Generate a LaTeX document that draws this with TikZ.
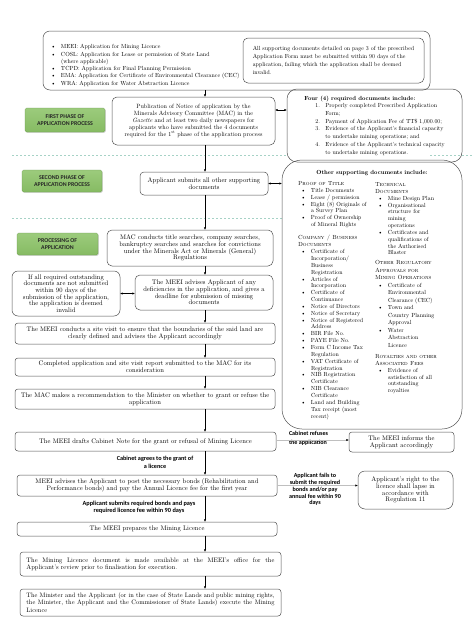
\documentclass[tikz,border=0pt]{standalone}
\usepackage{fontspec}
\setmainfont{lmroman10-regular.otf}[
  BoldFont       = lmroman10-bold.otf,
  ItalicFont     = lmroman10-italic.otf,
  BoldItalicFont = lmroman10-bolditalic.otf,
  SmallCapsFont  = lmromancaps10-regular.otf]
\newfontfamily\sansfam{Carlito}
\usepackage{tikz}
\usetikzlibrary{arrows.meta,shadows}

\definecolor{edgegray}{HTML}{505050}
\definecolor{phasetop}{HTML}{9CCB7C}
\definecolor{phasemid}{HTML}{CBE7B5}
\definecolor{phasebot}{HTML}{86BB63}
\definecolor{phaseline}{HTML}{A6D2C6}

\newcommand{\boxfont}{\fontsize{6.6}{6.7}\selectfont}
\newcommand{\listfont}{\fontsize{5.9}{6.85}\selectfont}
\newcommand{\labfont}{\sansfam\bfseries\fontsize{6.2}{8}\selectfont}
\newcommand{\phasefont}{\sansfam\bfseries\fontsize{5.9}{6.8}\selectfont}
% bullets and indents for the lists
\newcommand{\bul}{\makebox[10pt][l]{\textbullet}}
\newcommand{\ind}{\hspace*{10pt}}
\newcommand{\obul}{\hspace*{3pt}\makebox[10pt][l]{\textbullet}}
\newcommand{\oind}{\hspace*{13pt}}
\newcommand{\numit}[1]{\hspace*{11pt}\makebox[10pt][l]{#1}}
\newcommand{\numind}{\hspace*{21pt}}

\begin{document}
\begin{tikzpicture}[
    x=1pt, y=-1pt,
    every node/.style = {inner sep=0pt, outer sep=0pt},
    procbox/.style    = {draw=edgegray, line width=0.5pt, rounded corners=3pt,
                         align=center, font=\boxfont},
    phase/.style      = {draw=phasebot!80!black, line width=0.3pt, rounded corners=1.5pt,
                         top color=phasetop, middle color=phasemid, bottom color=phasebot,
                         align=center, font=\phasefont, text=black!85,
                         drop shadow={opacity=0.3, shadow xshift=0.8pt, shadow yshift=-0.8pt}},
    lab/.style        = {align=center, font=\labfont},
    arr/.style        = {-{Latex[length=2.6pt,width=2.2pt]}, line width=0.5pt},
    dbl/.style        = {{Latex[length=2.6pt,width=2.2pt]}-{Latex[length=2.6pt,width=2.2pt]}, line width=0.5pt},
    grayarr/.style    = {draw=gray!50, line width=0.6pt, -{Latex[black,length=2.6pt,width=2.2pt]}},
    sep/.style        = {draw=phaseline, dashed, dash pattern=on 2pt off 2pt, line width=0.6pt},
]
\useasboundingbox (0,0) rectangle (474,632);
\coordinate (col) at (205,0);

% phase separators
\draw[sep] (12,155) -- (287,155);
\draw[sep] (430,155) -- (474,155);
\draw[sep] (12,218) -- (282,218);

% applications
\node[procbox, minimum width=387pt, minimum height=59pt, rounded corners=7pt] (apps) at (236.5,60.5) {};
\node[align=left, anchor=west, font={\fontsize{5.9}{7.3}\selectfont}] (applist) at (51,65.5) {%
  \bul MEEI: Application for Mining Licence\\
  \bul COSL: Application for Lease or permission of State Land\\
  \ind (where applicable)\\
  \bul TCPD: Application for Final Planning Permission\\
  \bul EMA: Application for Certificate of Environmental Clearance (CEC)\\
  \bul WRA: Application for Water Abstraction Licence};
\node[procbox, minimum width=181pt, minimum height=45pt, rounded corners=5pt, align=left,
      font={\fontsize{5.9}{7.9}\selectfont}] (alldocs) at (333.5,60.5) {%
  All supporting documents detailed on page 3 of the prescribed\\
  Application Form must be submitted within 90 days of the\\
  application, failing which the application shall be deemed\\
  invalid.};

% first phase
\node[phase, minimum width=80pt, minimum height=24pt] (first) at (65,120) {FIRST PHASE OF\\APPLICATION PROCESS};
\node[procbox, minimum width=163pt, minimum height=48pt, rounded corners=5pt,
      font={\fontsize{6.1}{6.8}\selectfont}] (pub) at (193.5,121) {%
  Publication of Notice of application by the\\
  Minerals Advisory Committee (MAC) in the\\
  \textit{Gazette} and at least two daily newspapers for\\
  applicants who have submitted the 4 documents\\
  required for the 1\textsuperscript{st} phase of the application process};
\node[procbox, minimum width=175pt, minimum height=73pt, rounded corners=10pt, align=left,
      font={\fontsize{5.9}{7.7}\selectfont}] (four) at (374.5,125.5) {%
  \textbf{Four (4) required documents include:}\\
  \numit{1.}Properly completed Prescribed Application\\
  \numind Form;\\
  \numit{2.}Payment of Application Fee of TT\$ 1,000.00;\\
  \numit{3.}Evidence of the Applicant's financial capacity\\
  \numind to undertake mining operations; and\\
  \numit{4.}Evidence of the Applicant's technical capacity\\
  \numind to undertake mining operations.};

% second phase
\node[phase, minimum width=80pt, minimum height=22pt] (second) at (62,181) {SECOND PHASE OF\\APPLICATION PROCESS};
\node[procbox, minimum width=128pt, minimum height=23pt, rounded corners=4pt] (submit) at (204,183.5) {%
  Applicant submits all other supporting\\documents};

% other supporting documents
\node[procbox, minimum width=180pt, minimum height=269pt, rounded corners=20pt] (othdocs) at (372,294.5) {};
\node[font=\listfont\bfseries] (othtitle) at (372,173) {Other supporting documents include:};
\node[font=\listfont, align=left, anchor=north west] (titlecol) at (298,181.5) {%
  \textsc{Proof of Title}\\
  \obul Title Documents\\
  \obul Lease / permission\\
  \obul Eight (8) Originals of\\
  \oind a Survey Plan\\
  \obul Proof of Ownership\\
  \oind of Mineral Rights};
\node[font=\listfont, align=left, anchor=north west] (compcol) at (298,235.5) {%
  \textsc{Company / Business}\\
  \textsc{Documents}\\
  \obul Certificate of\\
  \oind Incorporation/\\
  \oind Business\\
  \oind Registration\\
  \obul Articles of\\
  \oind Incorporation\\
  \obul Certificate of\\
  \oind Continuance\\
  \obul Notice of Directors\\
  \obul Notice of Secretary\\
  \obul Notice of Registered\\
  \oind Address\\
  \obul BIR File No.\\
  \obul PAYE File No.\\
  \obul Form C Income Tax\\
  \oind Regulation\\
  \obul VAT Certificate of\\
  \oind Registration\\
  \obul NIB Registration\\
  \oind Certificate\\
  \obul NIB Clearance\\
  \oind Certificate\\
  \obul Land and Building\\
  \oind Tax receipt (most\\
  \oind recent)};
\node[font=\listfont, align=left, anchor=north west] (techcol) at (375,182.5) {%
  \textsc{Technical}\\
  \textsc{Documents}\\
  \obul Mine Design Plan\\
  \obul Organisational\\
  \oind structure for\\
  \oind mining\\
  \oind operations\\
  \obul Certificates and\\
  \oind qualifications of\\
  \oind the Authorised\\
  \oind Blaster};
\node[align=left, anchor=north west, font={\fontsize{5.9}{7.5}\selectfont}] (regcol) at (375,260.5) {%
  \textsc{Other Regulatory}\\
  \textsc{Approvals for}\\
  \textsc{Mining Operations}\\
  \obul Certificate of\\
  \oind Environmental\\
  \oind Clearance (CEC)\\
  \obul Town and\\
  \oind Country Planning\\
  \oind Approval\\
  \obul Water\\
  \oind Abstraction\\
  \oind Licence};
\node[font=\listfont, align=left, anchor=north west] (roycol) at (375,354.5) {%
  \textsc{Royalties and other}\\
  \textsc{Associated Fees}\\
  \obul Evidence of\\
  \oind satisfaction of all\\
  \oind outstanding\\
  \oind royalties};

% processing of application
\node[phase, minimum width=81pt, minimum height=22pt] (third) at (57.5,244) {PROCESSING OF\\APPLICATION};
\node[procbox, minimum width=166pt, minimum height=36pt, rounded corners=5pt] (mac) at (190,248) {%
  MAC conducts title searches, company searches,\\
  bankruptcy searches and searches for convictions\\
  under the Minerals Act or Minerals (General)\\
  Regulations};
\node[procbox, minimum width=108pt, minimum height=45pt, rounded corners=6pt] (invalid) at (66,293.5) {%
  If all required outstanding\\
  documents are not submitted\\
  within 90 days of the\\
  submission of the application,\\
  the application is deemed\\
  invalid};
\node[procbox, minimum width=138pt, minimum height=35pt, rounded corners=5pt] (advise) at (204,292.5) {%
  The MEEI advises Applicant of any\\
  deficiencies in the application, and gives a\\
  deadline for submission of missing\\
  documents};
\node[procbox, minimum width=260pt, minimum height=21pt] (site) at (145,333.5) {%
  The MEEI conducts a site visit to ensure that the boundaries of the said land are\\
  clearly defined and advises the Applicant accordingly};
\node[procbox, minimum width=260pt, minimum height=18pt] (report) at (145,367) {%
  Completed application and site visit report submitted to the MAC for its\\
  consideration};
\node[procbox, minimum width=260pt, minimum height=20pt] (recom) at (145,399) {%
  The MAC makes a recommendation to the Minister on whether to grant or refuse the\\
  application};
\node[procbox, minimum width=261pt, minimum height=19pt] (draft) at (145.5,441.5) {%
  The MEEI drafts Cabinet Note for the grant or refusal of Mining Licence};
\node[procbox, minimum width=105pt, minimum height=20pt] (inform) at (401.5,442) {%
  The MEEI informs the\\Applicant accordingly};
\node[procbox, minimum width=260pt, minimum height=21pt] (bonds) at (147,485.5) {%
  MEEI advises the Applicant to post the necessary bonds (Rehabilitation and\\
  Performance bonds) and pay the Annual Licence fee for the first year};
\node[procbox, minimum width=95pt, minimum height=38pt, rounded corners=7pt] (lapse) at (405.5,490) {%
  Applicant's right to the\\
  licence shall lapse in\\
  accordance with\\
  Regulation 11};
\node[procbox, minimum width=260pt, minimum height=14pt] (prep) at (147,529) {%
  The MEEI prepares the Mining Licence};
\node[procbox, minimum width=261pt, minimum height=24pt, text width=248pt, align=justify,
      font={\fontsize{6.5}{6.9}\selectfont}] (avail) at (150.5,564) {%
  The Mining Licence document is made available at the MEEI's office for the\linebreak
  Applicant's review prior to finalisation for execution.};
\node[procbox, minimum width=261pt, minimum height=27pt, text width=248pt, align=justify,
      font={\fontsize{6.4}{7.2}\selectfont}] (exec) at (150.5,602.5) {%
  The Minister and the Applicant (or in the case of State Lands and public mining rights,\linebreak
  the Minister, the Applicant and the Commissioner of State Lands) execute the Mining\linebreak
  Licence};

% decision labels
\node[lab, align=left, anchor=west, font={\sansfam\bfseries\fontsize{6.1}{8.6}\selectfont}] (refuse) at (289,438.5) {Cabinet refuses\\the application};
\node[lab] (agree) at (155,462) {Cabinet agrees to the grant of\\a licence};
\node[lab, font={\sansfam\bfseries\fontsize{6.1}{6.9}\selectfont}] (fails) at (315,489.5) {%
  Applicant fails to\\submit the required\\bonds and/or pay\\annual fee within 90\\days};
\node[lab, font={\sansfam\bfseries\fontsize{6.3}{7}\selectfont}] (paid) at (139,507.5) {%
  Applicant submits required bonds and pays\\required licence fee within 90 days};

% connectors
\draw[arr] (apps.south -| col) -- (pub.north -| col);
\draw[dbl] ([yshift=11pt]pub.east) -- ([yshift=11pt]pub.east -| four.west);
\draw[arr] (pub.south -| col) -- (submit.north -| col);
\draw[dbl] (submit.east) -- (submit.east -| othdocs.west);
\draw[arr] (submit.south -| col) -- (mac.north -| col);
\draw[arr] (mac.south -| col) -- (advise.north -| col);
\draw[dbl] (invalid.east) -- (invalid.east -| advise.west);
\draw[arr] (advise.south -| col) -- (site.north -| col);
\draw[arr] (site.south -| col) -- (report.north -| col);
\draw[arr] (report.south -| col) -- (recom.north -| col);
\draw[arr] (recom.south -| col) -- (draft.north -| col);
\draw[grayarr] ([yshift=1.5pt]draft.east) -- ([yshift=1.5pt]draft.east -| inform.west);
\draw[arr] (draft.south -| col) -- (bonds.north -| col);
\draw[grayarr] (bonds.east) -- (bonds.east -| lapse.west);
\draw[arr] (bonds.south -| col) -- (prep.north -| col);
\draw[arr] (prep.south -| col) -- (avail.north -| col);
\draw[arr] (avail.south -| col) -- (exec.north -| col);
\end{tikzpicture}
\end{document}
